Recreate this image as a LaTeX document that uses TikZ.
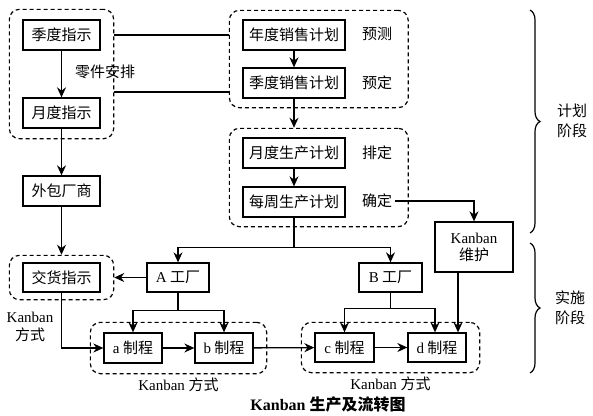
\documentclass[tikz,border=0pt]{standalone}
\usepackage{fontspec}
\setmainfont{Liberation Serif}
\newfontfamily\cjk{Noto Sans CJK SC}
\usetikzlibrary{arrows.meta,positioning,fit,calc,decorations.pathreplacing}
\newcommand{\lat}[1]{{\rmfamily #1}}
\tikzset{
  box/.style={draw,line width=1.3pt,minimum height=30pt,inner sep=0pt,font=\cjk\fontsize{15}{17}\selectfont},
  grp/.style={draw,line width=1.2pt,dash pattern=on 4pt off 3pt,rounded corners=10pt,inner xsep=13pt,inner ysep=10pt},
  lbl/.style={inner sep=3pt,font=\cjk\fontsize{15}{17}\selectfont},
  arr/.style={line width=1.3pt,-{Stealth[length=10pt,width=9pt]}},
  ln/.style={line width=1.2pt},
}
\begin{document}
\begin{tikzpicture}[x=1pt,y=-1pt]
  \useasboundingbox (0,0) rectangle (593,415);
  % left column
  \node[box,minimum width=77pt] (jdzs) at (61.5,35) {季度指示};
  \node[box,minimum width=77pt] (ydzs) at (61.5,113) {月度指示};
  \node[box,minimum width=77pt] (wbcs) at (61.5,191) {外包厂商};
  \node[box,minimum width=77pt,minimum height=29pt] (jhzs) at (61.5,277.5) {交货指示};
  \node[lbl] (ljap) at (105,72) {零件安排};

  % planning column
  \node[box,minimum width=102pt] (ndxs) at (294,35) {年度销售计划};
  \node[box,minimum width=102pt] (jdxs) at (294,83) {季度销售计划};
  \node[box,minimum width=102pt] (ydsc) at (294,153) {月度生产计划};
  \node[box,minimum width=102pt] (mzsc) at (294,202) {每周生产计划};
  \node[lbl] (yc) at (377,34) {预测};
  \node[lbl] (yd) at (377,83) {预定};
  \node[lbl] (pd) at (377,153) {排定};
  \node[lbl] (qd) at (377,201) {确定};

  % plants and processes
  \node[box,minimum width=62pt,minimum height=29pt] (Agc) at (178,277.5) {\lat{A} 工厂};
  \node[box,minimum width=63pt,minimum height=29pt] (Bgc) at (390.5,277.5) {\lat{B} 工厂};
  \node[box,minimum width=78pt,minimum height=50pt,align=center] (kbwh) at (474,247) {\lat{Kanban}\\维护};
  \node[box,minimum width=58pt] (azc) at (133,348) {\lat{a} 制程};
  \node[box,minimum width=58pt] (bzc) at (224,348) {\lat{b} 制程};
  \node[box,minimum width=59pt,minimum height=29pt] (czc) at (344.5,347.5) {\lat{c} 制程};
  \node[box,minimum width=58pt,minimum height=29pt] (dzc) at (437,347.5) {\lat{d} 制程};

  % dashed groups
  \node[grp,fit=(jdzs)(ydzs)] (g1) {};
  \node[grp,inner ysep=9pt,fit=(ndxs)(jdxs)(yc)] (g2) {};
  \node[grp,inner ysep=9pt,fit=(ydsc)(mzsc)(pd)] (g3) {};
  \node[grp,inner ysep=7pt,fit=(jhzs)] (g4) {};
  \node[grp,fit=(azc)(bzc)] (g5) {};
  \node[grp,fit=(czc)(dzc)] (g6) {};

  % Kanban labels
  \node[lbl,align=center,font=\fontsize{15}{18}\selectfont] (kbl) at (30,327) {Kanban\\{\cjk 方式}};
  \node[lbl,below=0pt of g5,font=\fontsize{15}{17}\selectfont] (kb5) {Kanban {\cjk 方式}};
  \node[lbl,below=0pt of g6,font=\fontsize{15}{17}\selectfont] (kb6) {Kanban {\cjk 方式}};
  \node[font=\bfseries\fontsize{16}{18}\selectfont] (cap) at (328,404) {Kanban {\cjk 生产及流转图}};

  % connectors
  \coordinate (lk) at ([yshift=-9pt]jdxs.center);
  \draw[ln] (g1.east |- jdzs) -- (g2.west |- jdzs);
  \draw[ln] (g1.east |- lk) -- (g2.west |- lk);
  \draw[arr] (jdzs) -- (ydzs);
  \draw[arr] (ydzs) -- (wbcs);
  \draw[arr] (wbcs) -- (g4.north);
  \draw[arr] (ndxs) -- (jdxs);
  \draw[arr] (jdxs.south) -- (jdxs.south |- g3.north);
  \draw[arr] (ydsc) -- (mzsc);
  \draw[arr] (mzsc.south) -- ++(0,30) -| (Agc.north);
  \draw[arr] (mzsc.south) -- ++(0,30) -| (Bgc.north);
  \draw[arr] (Agc.west) -- (g4.east |- Agc.west);
  \draw[arr] (Agc.south) -- ++(0,18) -| (azc.north);
  \draw[arr] (Agc.south) -- ++(0,18) -| (bzc.north);
  \draw[arr] (Bgc.south) -- ++(0,16) -| (czc.north);
  \draw[arr] (Bgc.south) -- ++(0,16) -| ([xshift=-2pt]dzc.north);
  \draw[arr] (jhzs.south) |- (azc.west);
  \draw[arr] (azc) -- (bzc);
  \draw[arr] (bzc) -- (czc);
  \draw[arr] (czc) -- (dzc);
  \draw[arr] (qd.east) -| (kbwh.north);
  \draw[arr] ([xshift=-16pt]kbwh.south) -- ([xshift=-16pt]kbwh.south |- dzc.north);

  % phase braces
  \draw[ln,decorate,decoration={brace,amplitude=10pt}] (530,10) -- (530,233);
  \draw[ln,decorate,decoration={brace,amplitude=10pt}] (530,243) -- (530,373);
  \node[lbl,align=center,font=\cjk\fontsize{15}{20}\selectfont] (jhjd) at (572,121) {计划\\阶段};
  \node[lbl,align=center,font=\cjk\fontsize{15}{20}\selectfont] (ssjd) at (570,308) {实施\\阶段};
\end{tikzpicture}
\end{document}
